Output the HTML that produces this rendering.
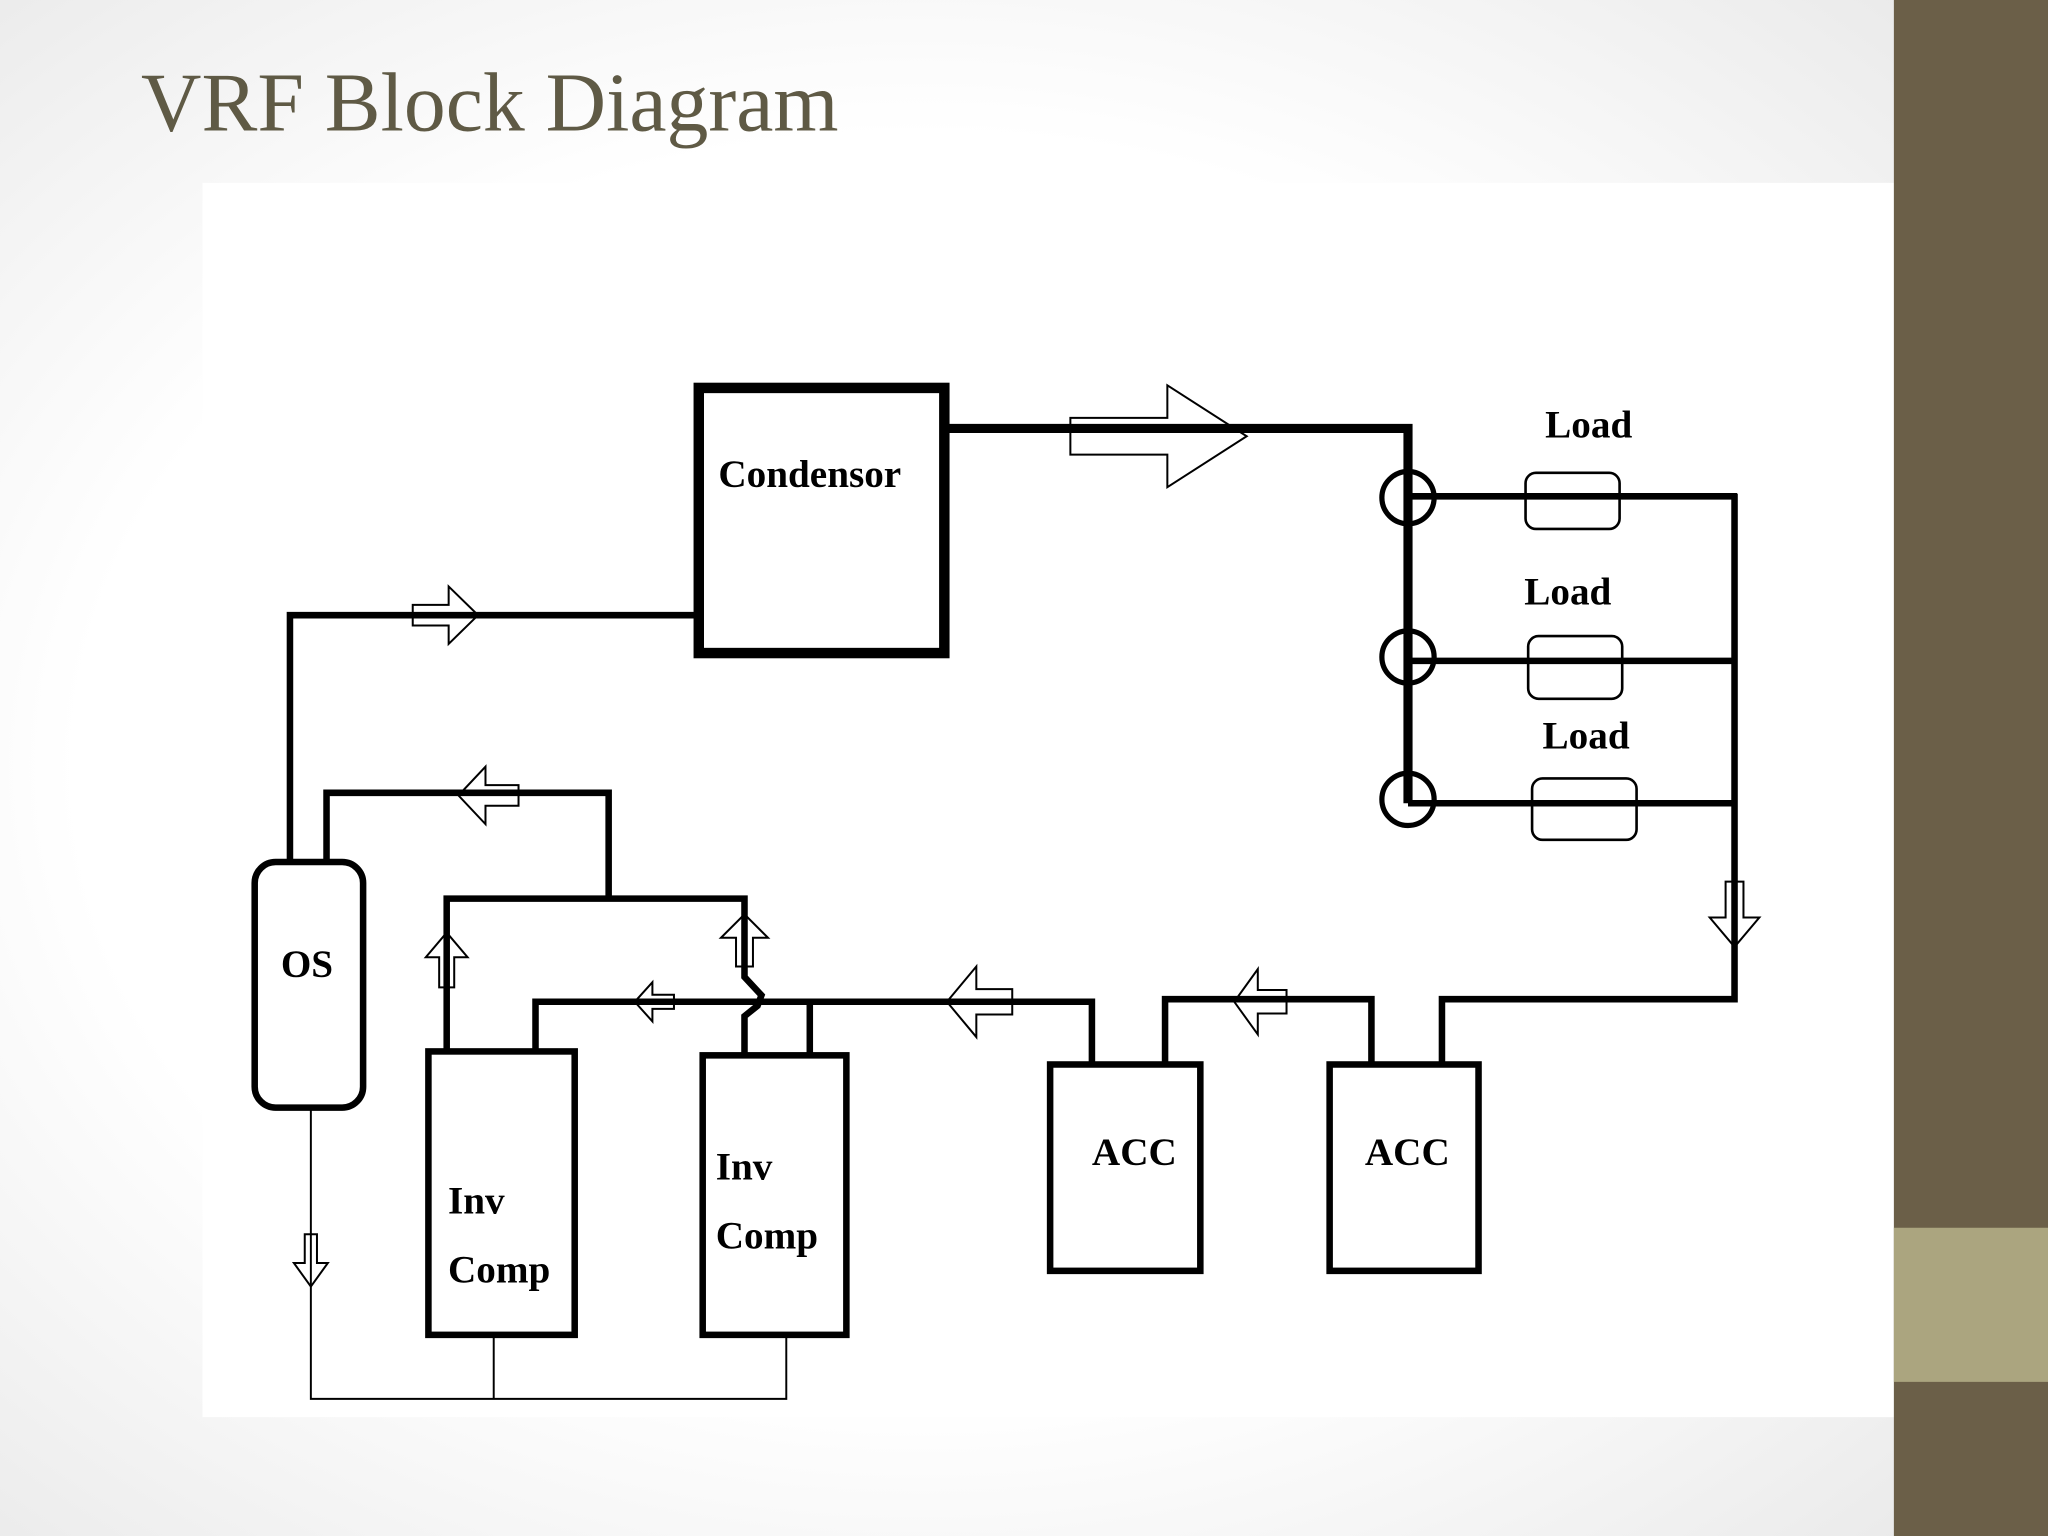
<!DOCTYPE html>
<html><head><meta charset="utf-8"><style>
html,body{margin:0;padding:0;width:2048px;height:1536px;overflow:hidden}
svg{display:block}
text{font-family:"Liberation Serif",serif;font-weight:bold;fill:#000}
</style></head><body>
<svg width="2048" height="1536" viewBox="0 0 1568 1176" xmlns="http://www.w3.org/2000/svg">
<defs>
<radialGradient id="bg" cx="0.45" cy="0.5" r="0.75">
<stop offset="0.55" stop-color="#ffffff"/><stop offset="1" stop-color="#e6e6e6"/>
</radialGradient>
<path id="ar" d="M-0.5,-0.18 L0.05,-0.18 L0.05,-0.5 L0.5,0 L0.05,0.5 L0.05,0.18 L-0.5,0.18 Z" fill="#fff" stroke="#000" stroke-width="2" vector-effect="non-scaling-stroke"/>
</defs>
<rect width="1568" height="1176" fill="url(#bg)"/>
<rect x="155" y="140" width="1295" height="945" fill="#fff"/>
<rect x="1450" y="0" width="118" height="1176" fill="#6b5f48"/>
<rect x="1450" y="940" width="118" height="118" fill="#aba57f"/>
<text x="108" y="100" textLength="534" lengthAdjust="spacingAndGlyphs" style="font-weight:normal;font-size:64px;fill:#5f5a45">VRF Block Diagram</text>

<use href="#ar" transform="translate(887,334) scale(135,78)"/>
<use href="#ar" transform="translate(341,471) scale(50,44)"/>
<use href="#ar" transform="translate(374,609) rotate(180) scale(46,44)"/>
<use href="#ar" transform="translate(342,735) rotate(-90) scale(42,32)"/>
<use href="#ar" transform="translate(570,720) rotate(-90) scale(40,36)"/>
<use href="#ar" transform="translate(501,767) rotate(180) scale(30,30)"/>
<use href="#ar" transform="translate(750,767) rotate(180) scale(50,54)"/>
<use href="#ar" transform="translate(965,767) rotate(180) scale(40,50)"/>
<use href="#ar" transform="translate(1328,700) rotate(90) scale(50,38)"/>
<use href="#ar" transform="translate(238,965) rotate(90) scale(40,26)"/>

<g fill="none" stroke="#000" stroke-linejoin="miter">
<rect x="535" y="297" width="188" height="203" stroke-width="8"/>
<polyline points="723,328 1078,328 1078,615" stroke-width="7"/>
<circle cx="1078" cy="381" r="20" stroke-width="4"/>
<circle cx="1078" cy="503" r="20" stroke-width="4"/>
<circle cx="1078" cy="612" r="20" stroke-width="4"/>
<line x1="1078" y1="380" x2="1330" y2="380" stroke-width="5"/>
<line x1="1078" y1="506" x2="1330" y2="506" stroke-width="5"/>
<line x1="1078" y1="615" x2="1330" y2="615" stroke-width="5"/>
<polyline points="1328,378 1328,765 1104,765 1104,815" stroke-width="5"/>
<rect x="1168" y="362" width="72" height="43" rx="8" stroke-width="2"/>
<rect x="1170" y="487" width="72" height="48" rx="8" stroke-width="2"/>
<rect x="1173" y="596" width="80" height="47" rx="8" stroke-width="2"/>
<rect x="1018" y="815" width="114" height="158" stroke-width="5"/>
<rect x="804" y="815" width="115" height="158" stroke-width="5"/>
<polyline points="1050,815 1050,765 892,765 892,815" stroke-width="5"/>
<polyline points="836,815 836,767 410,767 410,805" stroke-width="5"/>
<rect x="328" y="805" width="112" height="217" stroke-width="5"/>
<rect x="538" y="808" width="110" height="214" stroke-width="5"/>
<line x1="620" y1="808" x2="620" y2="767" stroke-width="5"/>
<polyline points="570,808 570,778 580,770 583,762 570,748 570,688 342,688 342,805" stroke-width="5"/>
<polyline points="466,688 466,607 250,607 250,662" stroke-width="5"/>
<rect x="195" y="660" width="83" height="188" rx="16" stroke-width="5"/>
<polyline points="222,660 222,471 535,471" stroke-width="5"/>
<polyline points="238,848 238,1071 602,1071 602,1022" stroke-width="1.5"/>
<line x1="378" y1="1022" x2="378" y2="1071" stroke-width="1.5"/>
</g>

<text x="550" y="373" font-size="30">Condensor</text>
<text x="1183" y="335" font-size="30">Load</text>
<text x="1167" y="463" font-size="30">Load</text>
<text x="1181" y="573" font-size="30">Load</text>
<text x="215" y="748" font-size="30">OS</text>
<text x="343" y="929" font-size="30">Inv</text>
<text x="343" y="982" font-size="30">Comp</text>
<text x="548" y="903" font-size="30">Inv</text>
<text x="548" y="956" font-size="30">Comp</text>
<text x="836" y="892" font-size="30">ACC</text>
<text x="1045" y="892" font-size="30">ACC</text>
</svg>
</body></html>
